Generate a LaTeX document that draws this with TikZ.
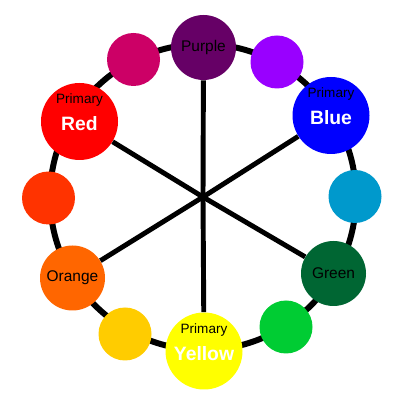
\documentclass[tikz,border=0pt]{standalone}
\usepackage{fontspec}
\setmainfont{Liberation Sans}
\definecolor{pur}{HTML}{660066}
\definecolor{rvi}{HTML}{CC0066}
\definecolor{vio}{HTML}{9900FF}
\definecolor{rd}{HTML}{FF0000}
\definecolor{bl}{HTML}{0000FF}
\definecolor{ror}{HTML}{FF3300}
\definecolor{bgr}{HTML}{0099CC}
\definecolor{org}{HTML}{FF6600}
\definecolor{grn}{HTML}{006633}
\definecolor{yor}{HTML}{FFCC00}
\definecolor{ygr}{HTML}{00CC33}
\definecolor{yel}{HTML}{FFFF00}
\tikzset{
  ring/.style={line width=3.4pt, black},
  spoke/.style={line width=2.8pt, black},
  tert/.style={circle, minimum size=1.06cm, inner sep=0pt},
  sec/.style={circle, minimum size=1.3cm, inner sep=0pt, font=\fontsize{8.8}{10}\selectfont},
  prim/.style={circle, minimum size=1.54cm, inner sep=0pt, text=white, text height=0.38cm,
    font=\bfseries\fontsize{11}{13}\selectfont, label={[primtag]center:Primary}},
  primtag/.style={yshift=0.42cm, text=black, font=\fontsize{7.7}{9}\selectfont},
}
\begin{document}
\begin{tikzpicture}
 \fill[white] (0,0) rectangle (8,8);
 \useasboundingbox (0,0) rectangle (8,8);
 \coordinate (hub) at (4.06,4.06);
 % outer ring
 \draw[ring] (hub) circle (3.06);
 % tertiary colours
 \node[tert, fill=rvi] (redviolet) at (2.67,6.81) {};
 \node[tert, fill=vio] (blueviolet) at (5.54,6.76) {};
 \node[tert, fill=ror] (redorange) at (0.97,4.04) {};
 \node[tert, fill=bgr] (bluegreen) at (7.10,4.07) {};
 \node[tert, fill=yor] (yelloworange) at (2.50,1.32) {};
 \node[tert, fill=ygr] (yellowgreen) at (5.72,1.46) {};
 % secondary colours
 \node[sec, fill=pur] (purple) at (4.07,7.05) {Purple};
 \node[sec, fill=org] (orange) at (1.45,2.44) {Orange};
 \node[sec, fill=grn] (green) at (6.67,2.53) {Green};
 % primary colours
 \node[prim, fill=rd] (red) at (1.59,5.57) {Red};
 \node[prim, fill=bl] (blue) at (6.62,5.69) {Blue};
 \node[prim, fill=yel] (yellow) at (4.08,0.98) {Yellow};
 % spokes
 \draw[spoke] (purple) -- (hub) -- (yellow);
 \draw[spoke] (red) -- (hub) -- (green);
 \draw[spoke] (blue) -- (hub) -- (orange);
\end{tikzpicture}
\end{document}
